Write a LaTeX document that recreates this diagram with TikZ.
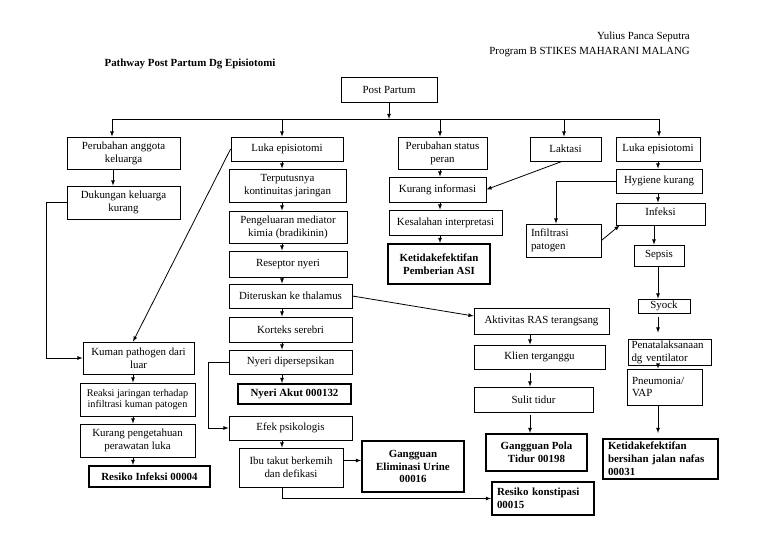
\documentclass[tikz,border=0pt]{standalone}
\usepackage{fontspec}
\setmainfont{Liberation Serif}
\begin{document}
\begin{tikzpicture}[x=1pt,y=-1pt,
	kotak/.style={draw,line width=0.8pt,inner sep=1pt,align=center,font=\fontsize{10.9}{12.8}\selectfont},
	tebal/.style={kotak,line width=2pt,font=\fontsize{10.9}{12.8}\selectfont\bfseries},
	ukuran/.style 2 args={minimum width=#1pt,minimum height=#2pt},
	kiri/.style={align=left,text width=#1pt},
	panah/.style={-latex,line width=0.8pt}]
	\useasboundingbox (0,0) rectangle (768,543);

	\node[font=\fontsize{10.9}{12.8}\selectfont\bfseries] (judul) at (190,64) {Pathway Post Partum Dg Episiotomi};
	\node[anchor=east,inner sep=0pt,font=\fontsize{10.9}{12.8}\selectfont] (nama) at (690,37) {Yulius Panca Seputra};
	\node[anchor=east,inner sep=0pt,font=\fontsize{10.9}{12.8}\selectfont] (prodi) at (690,52) {Program B STIKES MAHARANI MALANG};

	\node[kotak,ukuran={96}{25}] (post) at (389,89.5) {Post Partum};
	\coordinate (bus) at (389,119);
	% garis bantu kolom
	\coordinate (sb1) at (113,0);
	\coordinate (sb2) at (133,0);
	\coordinate (sb3) at (282,0);
	\coordinate (sb4) at (440,0);
	\coordinate (sb5) at (530,0);
	\coordinate (sb6) at (658,0);

	\node[kotak,ukuran={113}{32}] (anggota) at (123.5,153) {Perubahan anggota\\keluarga};
	\node[kotak,ukuran={113}{33}] (dukungan) at (123.5,202.5) {Dukungan keluarga\\kurang};
	\node[kotak,ukuran={111}{32}] (kuman) at (138.5,358) {Kuman pathogen dari\\luar};
	\node[kotak,ukuran={115}{33},font=\fontsize{10.2}{11.8}\selectfont] (reaksi) at (137.5,399.5) {Reaksi jaringan terhadap\\infiltrasi kuman patogen};
	\node[kotak,ukuran={115}{33}] (tahu) at (137.5,440.5) {Kurang pengetahuan\\perawatan luka};
	\node[tebal,ukuran={121}{21}] (infeksi4) at (149.5,476.5) {Resiko Infeksi 00004};

	\node[kotak,ukuran={112}{24}] (luka) at (287,149) {Luka episiotomi};
	\node[kotak,ukuran={117}{33}] (putus) at (287.5,185.5) {Terputusnya\\kontinuitas jaringan};
	\node[kotak,ukuran={118}{32}] (mediator) at (288,227) {Pengeluaran mediator\\kimia (bradikinin)};
	\node[kotak,ukuran={118}{26}] (reseptor) at (288,264) {Reseptor nyeri};
	\node[kotak,ukuran={123}{24}] (thalamus) at (290.5,296) {Diteruskan ke thalamus};
	\node[kotak,ukuran={123}{25}] (korteks) at (290.5,329.5) {Korteks serebri};
	\node[kotak,ukuran={123}{24}] (nyeri) at (290.5,362) {Nyeri dipersepsikan};
	\node[tebal,ukuran={113}{20}] (akut) at (294.5,394) {Nyeri Akut 000132};
	\node[kotak,ukuran={123}{24}] (efek) at (290.5,428) {Efek psikologis};
	\node[kotak,ukuran={104}{39}] (takut) at (291,467.5) {Ibu takut berkemih\\dan defikasi};
	\node[tebal,ukuran={102}{51}] (urine) at (413,466.5) {Gangguan\\Eliminasi Urine\\00016};
	\node[tebal,ukuran={102}{33},kiri=92] (konstipasi) at (543,498.5) {Resiko konstipasi\\00015};

	\node[kotak,ukuran={89}{32}] (status) at (442.5,153) {Perubahan status\\peran};
	\node[kotak,ukuran={97}{25}] (info) at (437.5,189.5) {Kurang informasi};
	\node[kotak,ukuran={113}{25}] (salah) at (445.5,222.5) {Kesalahan interpretasi};
	\node[tebal,ukuran={102}{40}] (asi) at (439,264) {Ketidakefektifan\\Pemberian ASI};
	\node[kotak,ukuran={71}{24}] (laktasi) at (565.5,149) {Laktasi};

	\node[kotak,ukuran={135}{26}] (ras) at (541.5,321) {Aktivitas RAS terangsang};
	\node[kotak,ukuran={131}{24}] (klien) at (539.5,357) {Klien terganggu};
	\node[kotak,ukuran={119}{25}] (sulit) at (533.5,399.5) {Sulit tidur};
	\node[tebal,ukuran={101}{37}] (pola) at (536.5,452.5) {Gangguan Pola\\Tidur 00198};

	\node[kotak,ukuran={84}{24}] (luka2) at (658,149) {Luka episiotomi};
	\node[kotak,ukuran={86}{24}] (hygiene) at (659,181) {Hygiene kurang};
	\node[kotak,ukuran={89}{22},text depth=4pt] (infeksi) at (660.5,214) {Infeksi};
	\node[kotak,ukuran={75}{33},kiri=65] (infiltrasi) at (563.5,240.5) {Infiltrasi\\patogen};
	\node[kotak,ukuran={50}{21}] (sepsis) at (659,255.5) {Sepsis};
	\node[kotak,ukuran={52}{14}] (syock) at (664,306) {Syock};
	\node[kotak,ukuran={83}{26},kiri=76] (penata) at (669.5,352) {Penatalaksanaan\\dg ventilator};
	\node[kotak,ukuran={75}{36},kiri=65] (pneu) at (664.5,387) {Pneumonia/\\VAP};
	\node[tebal,ukuran={115}{40},kiri=105] (jalan) at (660.5,459) {Ketidakefektifan\\bersihan jalan nafas\\00031};

	\draw[panah] (post) -- (bus);
	\draw[panah] (bus) -| ([xshift=-11.5pt]anggota.north);
	\draw[panah] (bus) -| (luka.north -| sb3);
	\draw[panah] (bus) -| (status.north -| sb4);
	\draw[panah] (bus) -| ([xshift=-1.5pt]laktasi.north);
	\draw[panah] (bus) -| ([xshift=1pt]luka2.north);

	\draw[panah] (anggota.south -| sb1) -- (dukungan.north -| sb1);
	\draw[panah] (dukungan.west) -- ++(-20,0) |- (kuman.west);
	\draw[panah] (luka.west) -- (kuman.north -| sb2);
	\draw[panah] (kuman.south -| sb2) -- (reaksi.north -| sb2);
	\draw[panah] (reaksi.south -| sb2) -- (tahu.north -| sb2);
	\draw[panah] (tahu.south -| sb2) -- (infeksi4.north -| sb2);

	\draw[panah] (luka.south -| sb3) -- (putus.north -| sb3);
	\draw[panah] (putus.south -| sb3) -- (mediator.north -| sb3);
	\draw[panah] (mediator.south -| sb3) -- (reseptor.north -| sb3);
	\draw[panah] (reseptor.south -| sb3) -- (thalamus.north -| sb3);
	\draw[panah] (thalamus.south -| sb3) -- (korteks.north -| sb3);
	\draw[panah] (korteks.south -| sb3) -- (nyeri.north -| sb3);
	\draw[panah] (nyeri.south -| sb3) -- (akut.north -| sb3);
	\draw[panah] (nyeri.west) -- ++(-20,0) |- (efek.west);
	\draw[panah] (efek.south -| sb3) -- (takut.north -| sb3);
	\draw[panah] ([yshift=7pt]takut.east) -- ([yshift=7pt]takut.east -| urine.west);
	\draw[panah] (takut.south -| sb3) |- (konstipasi.west);
	\draw[panah] (thalamus.east) -- ([yshift=5pt]ras.west);

	\draw[panah] (status.south -| sb4) -- (info.north -| sb4);
	\draw[panah] (info.south -| sb4) -- (salah.north -| sb4);
	\draw[panah] (salah.south -| sb4) -- (asi.north -| sb4);
	\draw[panah] ([xshift=-3.5pt]laktasi.south) -- (info.east);

	\draw[panah] (ras.south -| sb5) -- (klien.north -| sb5);
	\draw[panah,shorten <=4pt] (klien.south -| sb5) -- (sulit.north -| sb5);
	\draw[panah,shorten <=3pt] (sulit.south -| sb5) -- (pola.north -| sb5);

	\draw[panah] (luka2.south -| sb6) -- (hygiene.north -| sb6);
	\draw[panah] (hygiene.south -| sb6) -- (infeksi.north -| sb6);
	\draw[panah] (hygiene.west) -| ([xshift=-7.5pt]infiltrasi.north);
	\draw[panah] (infiltrasi.east) -- ([xshift=4pt]infeksi.south west);
	\draw[panah] ([xshift=-4pt]infeksi.south -| sb6) -- ([xshift=-4pt]sepsis.north -| sb6);
	\draw[panah] (sepsis.south -| sb6) -- (syock.north -| sb6);
	\draw[panah,shorten <=4pt,shorten >=6pt] (syock.south -| sb6) -- (penata.north -| sb6);
	\draw[panah] (penata.south -| sb6) -- (pneu.north -| sb6);
	\draw[panah,shorten >=5pt] (pneu.south -| sb6) -- (jalan.north -| sb6);
\end{tikzpicture}
\end{document}
